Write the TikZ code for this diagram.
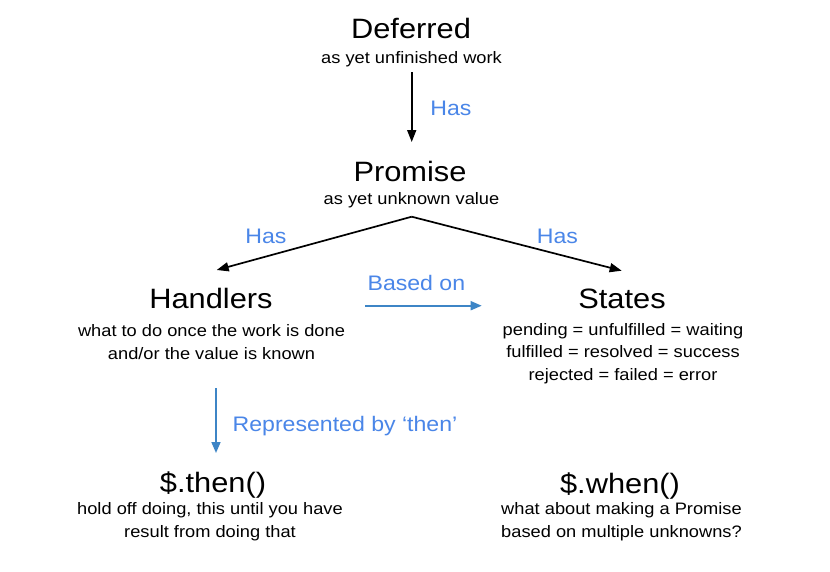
\documentclass[tikz,border=0pt]{standalone}
\usepackage{fontspec}
\setmainfont{Liberation Sans}[FakeStretch=1.1]
\usetikzlibrary{arrows.meta}
\definecolor{lblue}{HTML}{4A86E8}
\definecolor{ablue}{HTML}{3D85C6}
\begin{document}
\begin{tikzpicture}[x=1pt,y=-1pt,
  every node/.style={inner sep=0pt,outer sep=0pt},
  ttl/.style={anchor=base,font=\fontsize{28}{30}\selectfont},
  sub/.style={anchor=base,align=center,font=\fontsize{16.6}{22.5}\selectfont},
  lbl/.style={anchor=base,text=lblue,font=\fontsize{21}{24}\selectfont},
  blk/.style={draw=black,line width=1.7pt,-{Triangle[length=12pt,width=9pt]}},
  blu/.style={draw=ablue,line width=1.7pt,-{Triangle[length=11pt,width=9pt]}}]
\useasboundingbox[fill=white] (0,0) rectangle (830,571);

% titles (multi-line nodes are anchored at the baseline of their last line)
\node[ttl] (def)    at (411,38)  {Deferred};
\node[sub] (defsub) at (411.5,63) {as yet unfinished work};
\node[ttl] (prom)   at (410,181) {Promise};
\node[sub] (promsub) at (411.5,204) {as yet unknown value};
\node[ttl] (hand)   at (211,308) {Handlers};
\node[sub] (handsub) at (211.5,359) {what to do once the work is done\\and/or the value is known};
\node[ttl] (states) at (622,308) {States};
\node[sub] (statessub) at (623,380) {pending = unfulfilled = waiting\\fulfilled = resolved = success\\rejected = failed = error};
\node[ttl] (then)   at (213,492) {\$.then()};
\node[sub] (thensub) at (210,537) {hold off doing, this until you have\\result from doing that};
\node[ttl] (when)   at (620,493) {\$.when()};
\node[sub] (whensub) at (621.5,537) {what about making a Promise\\based on multiple unknowns?};

% labels
\node[lbl] (has1) at (451,115) {Has};
\node[lbl] (has2) at (266,243) {Has};
\node[lbl] (has3) at (557.4,243) {Has};
\node[lbl] (based) at (416.4,290) {Based on};
\node[lbl] (repr) at (345,431.7) {Represented by ‘then’};

% connectors
\draw[blk] ([xshift=0.2pt,yshift=-9pt]defsub.base) -- ([xshift=1.7pt,yshift=39pt]prom.base);
\draw[blk] ([xshift=0.2pt,yshift=-12.7pt]promsub.base) -- ([xshift=5.7pt,yshift=38pt]hand.base);
\draw[blk] ([xshift=0.2pt,yshift=-12.7pt]promsub.base) -- ([xshift=-0.3pt,yshift=37.3pt]states.base);
\draw[blu] ([xshift=154pt,yshift=2.3pt]hand.base) -- ([xshift=-140.3pt,yshift=2.3pt]states.base);
\draw[blu] ([xshift=5pt,yshift=-80pt]hand.base) -- ([xshift=3pt,yshift=39pt]then.base);
\end{tikzpicture}
\end{document}
